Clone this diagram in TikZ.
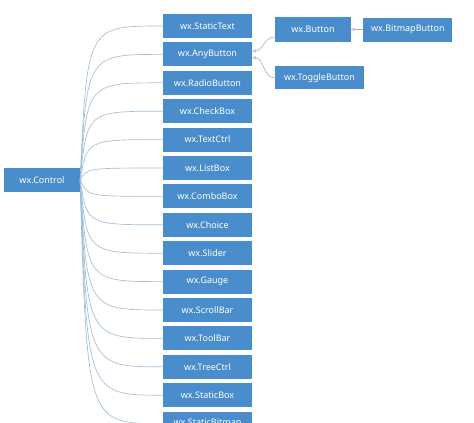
\documentclass[tikz,border=0pt]{standalone}
\usepackage{fontspec}
\setmainfont{Noto Sans}
\usepackage{tikz}
\usetikzlibrary{arrows.meta,positioning,calc}
\definecolor{boxblue}{RGB}{74,141,204}
\definecolor{linkblue}{RGB}{160,190,215}
\definecolor{linkgray}{RGB}{165,175,185}

\begin{document}
\begin{tikzpicture}[
  x=1pt,y=-1pt,
  node distance=4pt,
  every node/.style={font=\fontsize{9}{10}\selectfont,align=center},
  box/.style={fill=boxblue,text=white,minimum width=89pt,minimum height=24pt,inner sep=1pt},
  link/.style={draw=linkblue,line width=0.65pt},
  arr/.style={draw=linkgray,line width=0.6pt,-{Triangle[open,length=3.5pt,width=3.5pt]}}
]
\useasboundingbox (0,0) rectangle (474,423);

\node[box,minimum width=76pt] (ctrl) at (42,180) {wx.Control};
\coordinate (hub) at (87,180);

\node[box] (stext) at (207.5,26) {wx.StaticText};
\node[box,below=of stext] (anybtn) {wx.AnyButton};
\node[box,below=of anybtn] (radio) {wx.RadioButton};
\node[box,below=of radio] (check) {wx.CheckBox};
\node[box,below=of check] (tctrl) {wx.TextCtrl};
\node[box,below=of tctrl] (lbox) {wx.ListBox};
\node[box,below=of lbox] (combo) {wx.ComboBox};
\node[box,below=of combo] (choice) {wx.Choice};
\node[box,below=of choice] (slider) {wx.Slider};
\node[box,below=of slider] (gauge) {wx.Gauge};
\node[box,below=of gauge] (sbar) {wx.ScrollBar};
\node[box,below=of sbar] (tbar) {wx.ToolBar};
\node[box,below=of tbar] (tree) {wx.TreeCtrl};
\node[box,below=of tree] (sbox) {wx.StaticBox};
\node[box,below=of sbox] (sbmp) {wx.StaticBitmap};

\draw[link] (ctrl.east) .. controls (hub |- stext.west) .. (stext.west);
\draw[link] (ctrl.east) .. controls (hub |- anybtn.west) .. (anybtn.west);
\draw[link] (ctrl.east) .. controls (hub |- radio.west) .. (radio.west);
\draw[link] (ctrl.east) .. controls (hub |- check.west) .. (check.west);
\draw[link] (ctrl.east) .. controls (hub |- tctrl.west) .. (tctrl.west);
\draw[link] (ctrl.east) .. controls (hub |- lbox.west) .. (lbox.west);
\draw[link] (ctrl.east) .. controls (hub |- combo.west) .. (combo.west);
\draw[link] (ctrl.east) .. controls (hub |- choice.west) .. (choice.west);
\draw[link] (ctrl.east) .. controls (hub |- slider.west) .. (slider.west);
\draw[link] (ctrl.east) .. controls (hub |- gauge.west) .. (gauge.west);
\draw[link] (ctrl.east) .. controls (hub |- sbar.west) .. (sbar.west);
\draw[link] (ctrl.east) .. controls (hub |- tbar.west) .. (tbar.west);
\draw[link] (ctrl.east) .. controls (hub |- tree.west) .. (tree.west);
\draw[link] (ctrl.east) .. controls (hub |- sbox.west) .. (sbox.west);
\draw[link] (ctrl.east) .. controls (hub |- sbmp.west) .. (sbmp.west);

\node[box,minimum width=76pt,minimum height=25pt] (btn) at (313,29.5) {wx.Button};
\node[box,right=12pt of btn] (bmpbtn) {wx.BitmapButton};
\node[box,minimum height=23pt,below=24pt of btn.south west,anchor=north west] (tglbtn) {wx.ToggleButton};

\draw[arr] (bmpbtn.west) -- (btn.east);
\draw[arr] ([yshift=-7.5pt]btn.west) to[out=180,in=0] ([yshift=3.5pt]anybtn.east);
\draw[arr] (tglbtn.west) to[out=180,in=0] ([yshift=-3.5pt]anybtn.east);
\end{tikzpicture}
\end{document}
